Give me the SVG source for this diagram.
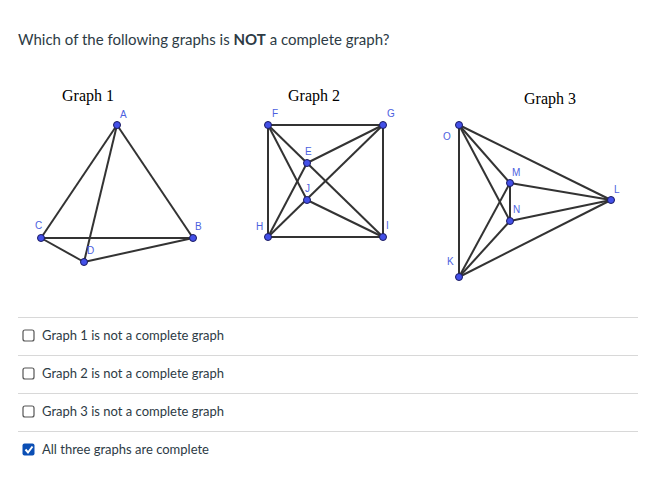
<svg xmlns="http://www.w3.org/2000/svg" width="663" height="489" viewBox="0 0 663 489">
<style>
.t{font-family:Lato,"Liberation Sans",sans-serif;fill:#2d3b45}
.g{font-family:"Liberation Serif",serif;font-size:16px;fill:#000}
.l{font-family:"Liberation Sans",sans-serif;font-size:10px;fill:#4d5fe0}
.e line{stroke:#333;stroke-width:2}
.n{fill:#4350e8;stroke:#1a1a60;stroke-width:1}
.sep{stroke:#d8d8d8;stroke-width:1}
.cb{fill:#fff;stroke:#555;stroke-width:1.2}
</style>
<rect width="663" height="489" fill="#fff"/>
<text class="t" x="18" y="45" font-size="15">Which of the following graphs is <tspan font-weight="bold">NOT</tspan> a complete graph?</text>
<text class="g" x="62" y="101">Graph 1</text>
<text class="g" x="288" y="101">Graph 2</text>
<text class="g" x="524" y="104">Graph 3</text>
<g class="e" id="edges">
<line x1="117" y1="125" x2="41" y2="238"/><line x1="117" y1="125" x2="193" y2="238"/><line x1="117" y1="125" x2="84" y2="262"/><line x1="41" y1="238" x2="193" y2="238"/><line x1="41" y1="238" x2="84" y2="262"/><line x1="84" y1="262" x2="193" y2="238"/>
<line x1="268" y1="125" x2="383" y2="125"/><line x1="268" y1="125" x2="268" y2="237"/><line x1="383" y1="125" x2="383" y2="237"/><line x1="268" y1="237" x2="383" y2="237"/><line x1="268" y1="125" x2="383" y2="237"/><line x1="383" y1="125" x2="268" y2="237"/><line x1="268" y1="125" x2="307" y2="200"/><line x1="307" y1="163" x2="268" y2="237"/><line x1="307" y1="200" x2="383" y2="237"/><line x1="307" y1="163" x2="383" y2="125"/>
<line x1="459" y1="125" x2="459" y2="277"/><line x1="459" y1="125" x2="611" y2="200"/><line x1="459" y1="125" x2="510" y2="183"/><line x1="459" y1="125" x2="510" y2="221"/><line x1="510" y1="183" x2="510" y2="221"/><line x1="510" y1="183" x2="611" y2="200"/><line x1="510" y1="221" x2="611" y2="200"/><line x1="459" y1="277" x2="510" y2="183"/><line x1="459" y1="277" x2="510" y2="221"/><line x1="459" y1="277" x2="611" y2="200"/>
</g>
<g id="A"><circle class="n" cx="117" cy="125" r="3.5"/><text class="l" x="120" y="118">A</text></g>
<g id="B"><circle class="n" cx="193" cy="238" r="3.5"/><text class="l" x="195" y="230">B</text></g>
<g id="C"><circle class="n" cx="41" cy="238" r="3.5"/><text class="l" x="35" y="229">C</text></g>
<g id="D"><circle class="n" cx="84" cy="262" r="3.5"/><text class="l" x="87" y="254">D</text></g>
<g id="F"><circle class="n" cx="268" cy="125" r="3.5"/><text class="l" x="272" y="117">F</text></g>
<g id="G"><circle class="n" cx="383" cy="125" r="3.5"/><text class="l" x="387" y="117">G</text></g>
<g id="H"><circle class="n" cx="268" cy="237" r="3.5"/><text class="l" x="256" y="230">H</text></g>
<g id="I"><circle class="n" cx="383" cy="237" r="3.5"/><text class="l" x="386" y="229">I</text></g>
<g id="E"><circle class="n" cx="307" cy="163" r="3.5"/><text class="l" x="305" y="155">E</text></g>
<g id="J"><circle class="n" cx="307" cy="200" r="3.5"/><text class="l" x="305" y="192">J</text></g>
<g id="O"><circle class="n" cx="459" cy="125" r="3.5"/><text class="l" x="443" y="140">O</text></g>
<g id="K"><circle class="n" cx="459" cy="277" r="3.5"/><text class="l" x="447" y="265">K</text></g>
<g id="L"><circle class="n" cx="611" cy="200" r="3.5"/><text class="l" x="614" y="193">L</text></g>
<g id="M"><circle class="n" cx="510" cy="183" r="3.5"/><text class="l" x="512" y="176">M</text></g>
<g id="N"><circle class="n" cx="510" cy="221" r="3.5"/><text class="l" x="513" y="213">N</text></g>
<g id="options">
<line class="sep" x1="18" y1="317.5" x2="638" y2="317.5"/><line class="sep" x1="18" y1="355.5" x2="638" y2="355.5"/><line class="sep" x1="18" y1="393.5" x2="638" y2="393.5"/><line class="sep" x1="18" y1="431.5" x2="638" y2="431.5"/>
<rect class="cb" x="23" y="330" width="11" height="11" rx="2"/><text class="t" x="42" y="340" font-size="13">Graph 1 is not a complete graph</text>
<rect class="cb" x="23" y="368" width="11" height="11" rx="2"/><text class="t" x="42" y="378" font-size="13">Graph 2 is not a complete graph</text>
<rect class="cb" x="23" y="406" width="11" height="11" rx="2"/><text class="t" x="42" y="416" font-size="13">Graph 3 is not a complete graph</text>
<rect x="22.5" y="443.5" width="12" height="12" rx="2" fill="#0b4fb5"/><path d="M25.5 449.5l2.5 3 4.5-6" fill="none" stroke="#fff" stroke-width="2"/><text class="t" x="42" y="454" font-size="13">All three graphs are complete</text>
</g>
</svg>
